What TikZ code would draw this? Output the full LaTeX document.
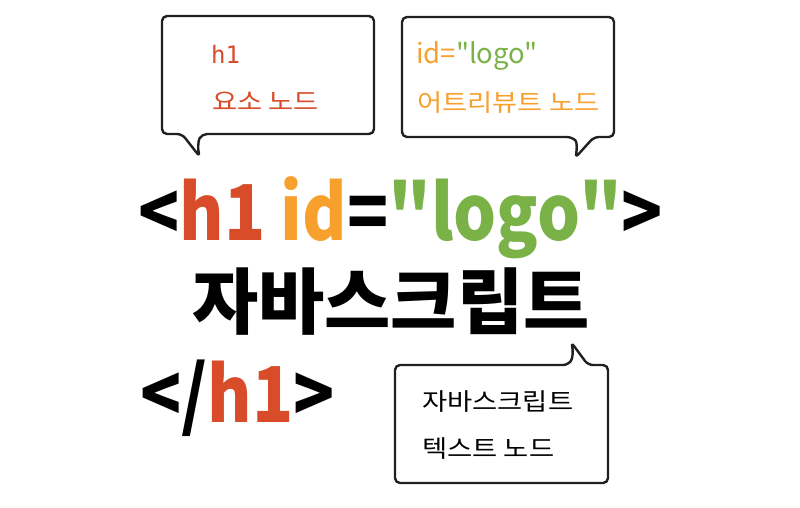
\documentclass[tikz,border=0pt]{standalone}
\usepackage{fontspec}
\newfontfamily\kr{Noto Sans CJK KR}
\newfontfamily\krnarrow{Noto Sans CJK KR}[FakeStretch=0.88]
\newfontfamily\krwide{Noto Sans CJK KR}[FakeStretch=1.14]
\newfontfamily\monofam{DejaVu Sans Mono}
\definecolor{cred}{RGB}{216,76,42}
\definecolor{corange}{RGB}{248,160,46}
\definecolor{cgreen}{RGB}{122,178,72}
\definecolor{cline}{RGB}{35,31,32}
\begin{document}
\begin{tikzpicture}[x=1pt,y=-1pt,
  callout/.style={draw=cline,line width=2.4pt,fill=white,rounded corners=5pt,line join=round},
  big/.style={anchor=base west,inner sep=0pt,font=\krnarrow\fontsize{77}{90}\selectfont\bfseries},
  mid/.style={anchor=base west,inner sep=0pt,font=\kr\fontsize{72}{80}\selectfont\bfseries},
  small/.style={anchor=base west,inner sep=0pt,font=\krwide\fontsize{24}{28}\selectfont},
  smalllat/.style={anchor=base west,inner sep=0pt,font=\kr\fontsize{27.5}{30}\selectfont},
  smallmono/.style={anchor=base west,inner sep=0pt,font=\monofam\fontsize{24}{28}\selectfont}]
\useasboundingbox (0,0) rectangle (800,507);
% callout 1
\draw[callout] (162,16) -- (374,16) -- (374,134) -- (202,134)
  .. controls (198,141) and (198,150) .. (200,157) -- (182,134) -- (162,134) -- cycle;
% callout 2
\draw[callout] (402,17) -- (614,17) -- (614,137) -- (594,137) -- (575,158)
  .. controls (577,150) and (577,142) .. (572,137) -- (402,137) -- cycle;
% callout 3
\draw[callout] (395,365) -- (568,365) .. controls (573,358) and (573,350) .. (571,342)
  -- (588,365) -- (608,365) -- (608,483) -- (395,483) -- cycle;
% callout texts
\node[smallmono,text=cred] (t1a) at (211,63) {h1};
\node[small,text=cred] (t1b) at (212,110) {요소 노드};
\node[smalllat] (t2a) at (416,63) {\textcolor{corange}{id=}\textcolor{cgreen}{"logo"}};
\node[small,text=corange] (t2b) at (417,111) {어트리뷰트 노드};
\node[small] (t3a) at (422,410) {자바스크립트};
\node[small] (t3b) at (422,457) {텍스트 노드};
% main code
\node[big] (open) at (138,240) {<\textcolor{cred}{h1} \textcolor{corange}{id}=\textcolor{cgreen}{"logo"}>};
\node[mid] (body) at (192,328) {자바스크립트};
\node[big] (close) at (140,422) {</\textcolor{cred}{h1}>};
\end{tikzpicture}
\end{document}
